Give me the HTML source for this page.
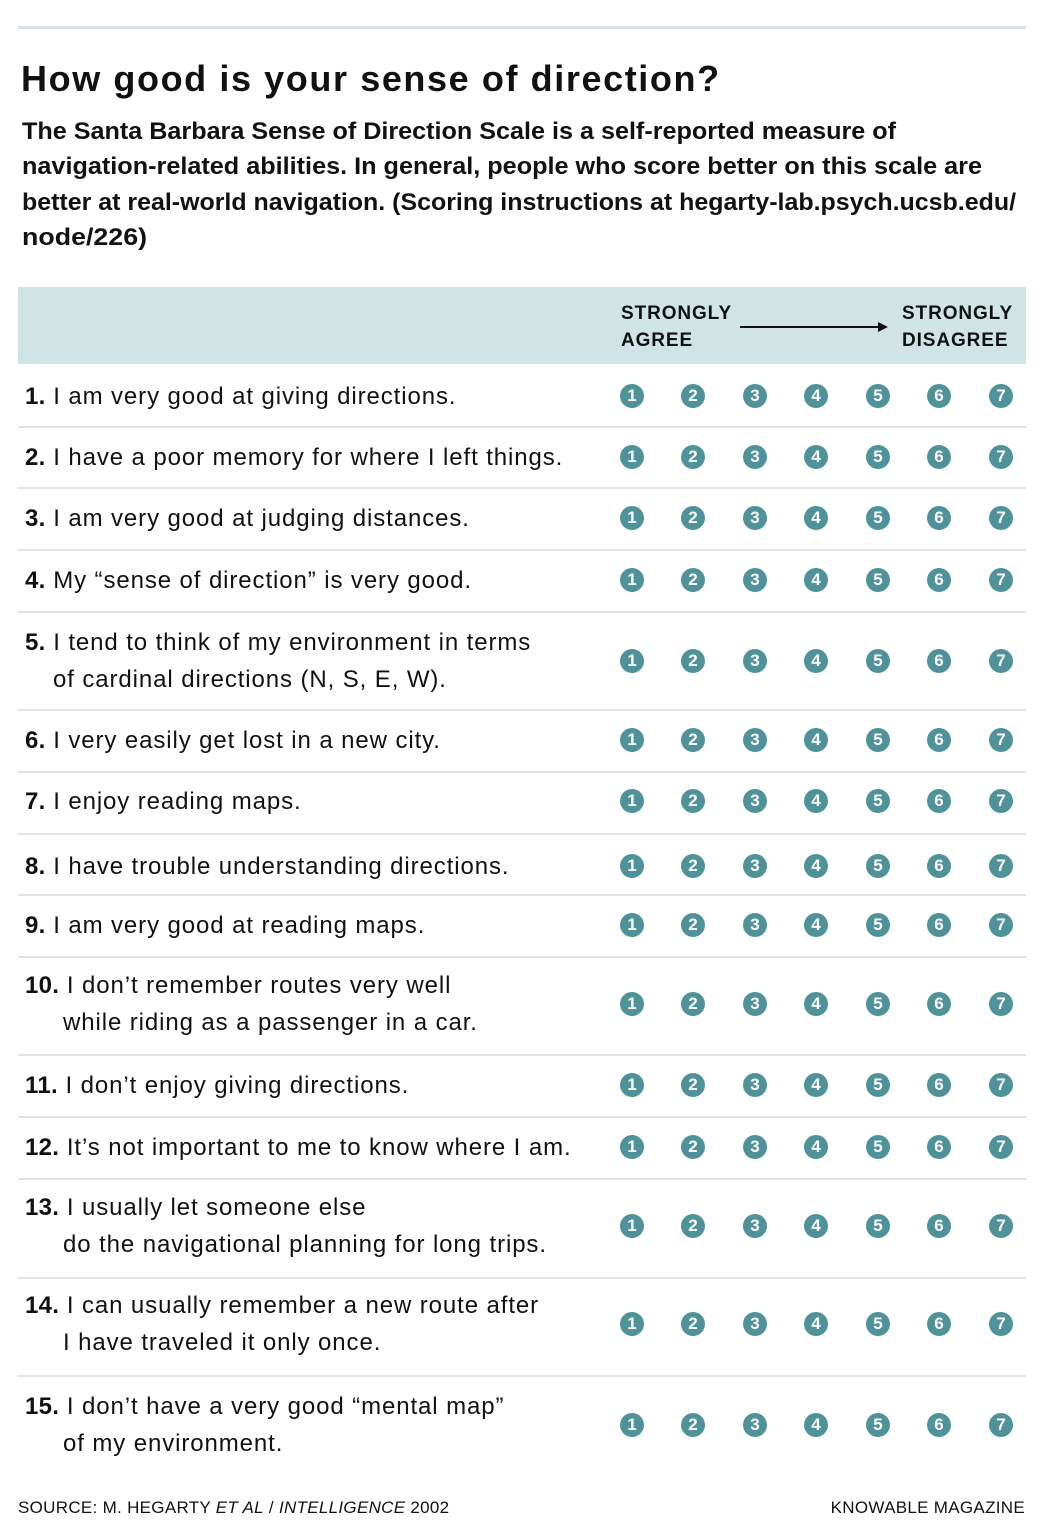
<!DOCTYPE html>
<html><head><meta charset="utf-8"><style>
body{margin:0;width:1043px;height:1536px;background:#fff;position:relative;font-family:"Liberation Sans",sans-serif;color:#111;overflow:hidden}
.a{position:absolute;white-space:nowrap}
.t{font-size:24px;line-height:37px;left:25px;letter-spacing:0.9px}
.t b{font-weight:bold;letter-spacing:0.3px}
.ln{position:absolute;left:18px;width:1008px;height:2px;background:#e2e2e2}
.c{position:absolute;width:24px;height:24px;border-radius:50%;background:#4f9299;color:#fff;font-weight:bold;font-size:17px;line-height:24px;text-align:center}
</style></head><body>
<div class="a" style="left:18px;top:26px;width:1008px;height:3px;background:#d3e5e8"></div>
<div class="a" style="left:21px;top:55px;font-size:36px;font-weight:bold;line-height:48px;letter-spacing:1.6px">How good is your sense of direction?</div>
<svg class="a" style="left:0;top:110px" width="1043" height="150" font-family="Liberation Sans, sans-serif" font-size="24" font-weight="bold" fill="#111">
<text x="22" y="29" textLength="874" lengthAdjust="spacingAndGlyphs">The Santa Barbara Sense of Direction Scale is a self-reported measure of</text>
<text x="22" y="64" textLength="960" lengthAdjust="spacingAndGlyphs">navigation-related abilities. In general, people who score better on this scale are</text>
<text x="22" y="100" textLength="994" lengthAdjust="spacingAndGlyphs">better at real-world navigation. (Scoring instructions at hegarty-lab.psych.ucsb.edu/</text>
<text x="22" y="135" textLength="125" lengthAdjust="spacingAndGlyphs">node/226)</text>
</svg>
<div class="a" style="left:18px;top:287px;width:1008px;height:77px;background:#d0e4e6"></div>
<div class="a" style="left:621px;top:300px;font-size:19px;font-weight:bold;line-height:27px;letter-spacing:0.9px">STRONGLY<br>AGREE</div>
<div class="a" style="left:902px;top:300px;font-size:19px;font-weight:bold;line-height:27px;letter-spacing:0.9px">STRONGLY<br>DISAGREE</div>
<div class="a" style="left:740px;top:326px;width:142px;height:2px;background:#111"></div>
<div class="a" style="left:878px;top:322px;width:0;height:0;border-left:10px solid #111;border-top:5px solid transparent;border-bottom:5px solid transparent"></div>
<div id="rows"></div>
<div class="a" style="left:18px;top:1498px;font-size:17px;letter-spacing:0.3px">SOURCE: M. HEGARTY <i>ET AL</i> / <i>INTELLIGENCE</i> 2002</div>
<div class="a" style="right:18px;top:1498px;font-size:17px;letter-spacing:0.3px">KNOWABLE MAGAZINE</div>
<script>
var items=[
["1.","I am very good at giving directions.",null,396],
["2.","I have a poor memory for where I left things.",null,457],
["3.","I am very good at judging distances.",null,518],
["4.","My “sense of direction” is very good.",null,580],
["5.","I tend to think of my environment in terms","of cardinal directions (N, S, E, W).",661],
["6.","I very easily get lost in a new city.",null,740],
["7.","I enjoy reading maps.",null,801],
["8.","I have trouble understanding directions.",null,866],
["9.","I am very good at reading maps.",null,925],
["10.","I don’t remember routes very well","while riding as a passenger in a car.",1004],
["11.","I don’t enjoy giving directions.",null,1085],
["12.","It’s not important to me to know where I am.",null,1147],
["13.","I usually let someone else","do the navigational planning for long trips.",1226],
["14.","I can usually remember a new route after","I have traveled it only once.",1324],
["15.","I don’t have a very good “mental map”","of my environment.",1425]];
var lines=[426,487,549,611,709,771,833,894,956,1054,1116,1178,1277,1375];
var cx=[632,693,755,816,878,939,1001],h="";
items.forEach(function(it){
 var y=it[3];
 if(it[2]){h+='<div class="a t" style="top:'+(y-37)+'px"><b>'+it[0]+'</b> '+it[1]+'<br><span style="padding-left:'+(it[0].length>2?38:28)+'px">'+it[2]+'</span></div>';}
 else h+='<div class="a t" style="top:'+(y-18)+'px"><b>'+it[0]+'</b> '+it[1]+'</div>';
 cx.forEach(function(x,i){h+='<div class="c" style="left:'+(x-12)+'px;top:'+(y-12)+'px">'+(i+1)+'</div>';});
});
lines.forEach(function(y){h+='<div class="ln" style="top:'+y+'px"></div>';});
document.getElementById('rows').innerHTML=h;
</script>
</body></html>
